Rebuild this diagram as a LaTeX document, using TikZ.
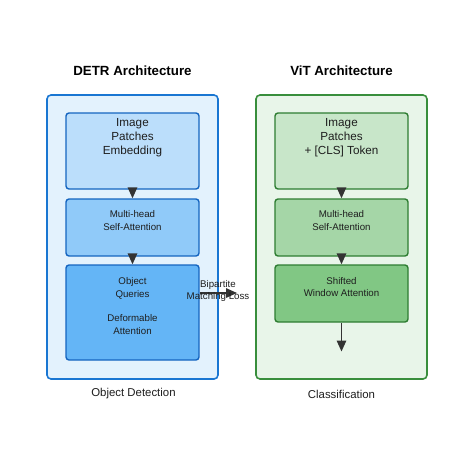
\documentclass[tikz,border=0pt]{standalone}
\usepackage{fontspec}
\setmainfont{Liberation Sans}
\usetikzlibrary{arrows.meta}
\definecolor{bOuterF}{HTML}{E3F2FD}
\definecolor{bOuterD}{HTML}{1976D2}
\definecolor{bOneF}{HTML}{BBDEFB}
\definecolor{bTwoF}{HTML}{90CAF9}
\definecolor{bThreeF}{HTML}{64B5F6}
\definecolor{bInD}{HTML}{1565C0}
\definecolor{gOuterF}{HTML}{E8F5E9}
\definecolor{gOuterD}{HTML}{388E3C}
\definecolor{gOneF}{HTML}{C8E6C9}
\definecolor{gTwoF}{HTML}{A5D6A7}
\definecolor{gThreeF}{HTML}{81C784}
\definecolor{gInD}{HTML}{2E7D32}
\definecolor{ink}{HTML}{1E1E1E}
\definecolor{arr}{HTML}{333333}
\tikzset{
  outerbox/.style={rounded corners=4pt, line width=1.6pt},
  innerbox/.style={rounded corners=3pt, line width=1.4pt},
  titletext/.style={font=\fontsize{13.3}{15}\selectfont\bfseries, text=black, inner sep=0pt},
  captext/.style={font=\fontsize{11.4}{13}\selectfont, text=ink, inner sep=0pt},
  bigtext/.style={font=\fontsize{11.7}{14}\selectfont, text=ink, align=center, inner sep=0pt},
  smalltext/.style={font=\fontsize{9.7}{12.3}\selectfont, text=ink, align=center, inner sep=0pt},
  flow/.style={draw=arr, line width=1.5pt, -{Triangle[length=11pt,width=9.5pt]}},
}
\begin{document}
\begin{tikzpicture}[x=1pt,y=-1pt]
\useasboundingbox (0,0) rectangle (474,474);
\fill[white] (0,0) rectangle (474,474);
% titles
\node[titletext] (t1) at (132.5,71) {DETR Architecture};
\node[titletext] (t2) at (341.5,71) {ViT Architecture};
% outer boxes
\draw[outerbox, fill=bOuterF, draw=bOuterD] (47,95) rectangle (218,379);
\draw[outerbox, fill=gOuterF, draw=gOuterD] (256,95) rectangle (427,379);
% left inner boxes
\node[innerbox, draw=bInD, fill=bOneF, minimum width=133pt, minimum height=76pt, inner sep=0pt] (l1) at (132.5,151) {};
\node[innerbox, draw=bInD, fill=bTwoF, minimum width=133pt, minimum height=57pt, inner sep=0pt] (l2) at (132.5,227.5) {};
\node[innerbox, draw=bInD, fill=bThreeF, minimum width=133pt, minimum height=95pt, inner sep=0pt] (l3) at (132.5,312.5) {};
% right inner boxes
\node[innerbox, draw=gInD, fill=gOneF, minimum width=133pt, minimum height=76pt, inner sep=0pt] (r1) at (341.5,151) {};
\node[innerbox, draw=gInD, fill=gTwoF, minimum width=133pt, minimum height=57pt, inner sep=0pt] (r2) at (341.5,227.5) {};
\node[innerbox, draw=gInD, fill=gThreeF, minimum width=133pt, minimum height=57pt, inner sep=0pt] (r3) at (341.5,293.5) {};
% texts
\node[bigtext] (l1t) at (132.5,138) {Image\\Patches\\Embedding};
\node[smalltext] (l2t) at (132.5,220.5) {Multi-head\\Self-Attention};
\node[smalltext] (l3t) at (132.5,306) {Object\\Queries\\ \\Deformable\\Attention};
\node[bigtext] (r1t) at (341.5,138) {Image\\Patches\\+ [CLS] Token};
\node[smalltext] (r2t) at (341.5,220.5) {Multi-head\\Self-Attention};
\node[smalltext] (r3t) at (341.5,287) {Shifted\\Window Attention};
% arrows
\draw[flow] (l1.south) -- (l2.north);
\draw[flow] (l2.south) -- (l3.north);
\draw[flow] (r1.south) -- (r2.north);
\draw[flow] (r2.south) -- (r3.north);
\coordinate (rend) at (341.5,351.5);
\draw[flow] (r3.south) -- (rend);
\coordinate (bend) at (237,293);
\draw[flow] (l3.east |- bend) -- (bend);
\node[smalltext] (bl) at (218,291) {Bipartite\\Matching Loss};
% captions
\node[captext] (c1) at (133.5,394) {Object Detection};
\node[captext] (c2) at (341.5,394) {Classification};
\end{tikzpicture}
\end{document}
